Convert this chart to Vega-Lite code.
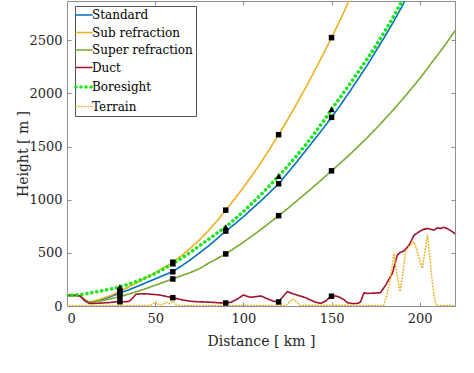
{
  "$schema": "https://vega.github.io/schema/vega-lite/v6.json",
  "width": 388,
  "height": 305,
  "autosize": "none",
  "padding": {"left": 67, "top": 1, "right": 19, "bottom": 67},
  "background": "white",
  "config": {
    "view": {"stroke": null},
    "font": "DejaVu Serif",
    "axis": {
      "grid": false,
      "domainColor": "#8f8f8f",
      "tickColor": "#8f8f8f",
      "labelColor": "#262626",
      "titleColor": "#262626",
      "labelFont": "DejaVu Serif",
      "titleFont": "DejaVu Serif",
      "labelFontSize": 13,
      "titleFontSize": 14,
      "titleFontWeight": "normal",
      "tickSize": -4,
      "format": "d"
    }
  },
  "datasets": {
    "lines": [
      {"s":"Standard","d":0,"h":100},{"s":"Standard","d":5,"h":100},{"s":"Standard","d":7.5,"h":95},{"s":"Standard","d":10,"h":58},{"s":"Standard","d":12.5,"h":36},{"s":"Standard","d":15,"h":40},{"s":"Standard","d":20,"h":60},{"s":"Standard","d":25,"h":90},{"s":"Standard","d":30,"h":122},{"s":"Standard","d":35,"h":152},{"s":"Standard","d":40,"h":185},{"s":"Standard","d":45,"h":220},{"s":"Standard","d":50,"h":255},{"s":"Standard","d":55,"h":290},{"s":"Standard","d":60,"h":325},{"s":"Standard","d":65,"h":378},{"s":"Standard","d":70,"h":435},{"s":"Standard","d":75,"h":498},{"s":"Standard","d":80,"h":562},{"s":"Standard","d":85,"h":632},{"s":"Standard","d":90,"h":705},{"s":"Standard","d":95,"h":770},{"s":"Standard","d":100,"h":840},{"s":"Standard","d":105,"h":915},{"s":"Standard","d":110,"h":990},{"s":"Standard","d":115,"h":1070},{"s":"Standard","d":120,"h":1150},{"s":"Standard","d":125,"h":1250},{"s":"Standard","d":130,"h":1350},{"s":"Standard","d":135,"h":1455},{"s":"Standard","d":140,"h":1560},{"s":"Standard","d":145,"h":1665},{"s":"Standard","d":150,"h":1775},{"s":"Standard","d":155,"h":1890},{"s":"Standard","d":160,"h":2010},{"s":"Standard","d":165,"h":2135},{"s":"Standard","d":170,"h":2260},{"s":"Standard","d":175,"h":2395},{"s":"Standard","d":180,"h":2530},{"s":"Standard","d":185,"h":2670},{"s":"Standard","d":190,"h":2820},{"s":"Standard","d":192,"h":2890},
      {"s":"Sub refraction","d":0,"h":100},{"s":"Sub refraction","d":5,"h":100},{"s":"Sub refraction","d":7.5,"h":95},{"s":"Sub refraction","d":10,"h":60},{"s":"Sub refraction","d":12.5,"h":38},{"s":"Sub refraction","d":15,"h":45},{"s":"Sub refraction","d":20,"h":70},{"s":"Sub refraction","d":25,"h":100},{"s":"Sub refraction","d":30,"h":140},{"s":"Sub refraction","d":35,"h":178},{"s":"Sub refraction","d":40,"h":222},{"s":"Sub refraction","d":45,"h":268},{"s":"Sub refraction","d":50,"h":315},{"s":"Sub refraction","d":55,"h":362},{"s":"Sub refraction","d":60,"h":412},{"s":"Sub refraction","d":65,"h":475},{"s":"Sub refraction","d":70,"h":545},{"s":"Sub refraction","d":75,"h":620},{"s":"Sub refraction","d":80,"h":705},{"s":"Sub refraction","d":85,"h":800},{"s":"Sub refraction","d":90,"h":902},{"s":"Sub refraction","d":95,"h":1005},{"s":"Sub refraction","d":100,"h":1115},{"s":"Sub refraction","d":105,"h":1230},{"s":"Sub refraction","d":110,"h":1350},{"s":"Sub refraction","d":115,"h":1480},{"s":"Sub refraction","d":120,"h":1612},{"s":"Sub refraction","d":125,"h":1750},{"s":"Sub refraction","d":130,"h":1895},{"s":"Sub refraction","d":135,"h":2045},{"s":"Sub refraction","d":140,"h":2200},{"s":"Sub refraction","d":145,"h":2360},{"s":"Sub refraction","d":150,"h":2525},{"s":"Sub refraction","d":155,"h":2695},{"s":"Sub refraction","d":160,"h":2875},{"s":"Sub refraction","d":162,"h":2950},
      {"s":"Super refraction","d":0,"h":100},{"s":"Super refraction","d":5,"h":100},{"s":"Super refraction","d":7.5,"h":95},{"s":"Super refraction","d":10,"h":58},{"s":"Super refraction","d":12.5,"h":36},{"s":"Super refraction","d":15,"h":38},{"s":"Super refraction","d":20,"h":50},{"s":"Super refraction","d":25,"h":68},{"s":"Super refraction","d":30,"h":88},{"s":"Super refraction","d":35,"h":112},{"s":"Super refraction","d":40,"h":138},{"s":"Super refraction","d":45,"h":165},{"s":"Super refraction","d":50,"h":195},{"s":"Super refraction","d":55,"h":225},{"s":"Super refraction","d":60,"h":255},{"s":"Super refraction","d":65,"h":285},{"s":"Super refraction","d":70,"h":315},{"s":"Super refraction","d":75,"h":350},{"s":"Super refraction","d":80,"h":400},{"s":"Super refraction","d":85,"h":445},{"s":"Super refraction","d":90,"h":490},{"s":"Super refraction","d":95,"h":545},{"s":"Super refraction","d":100,"h":600},{"s":"Super refraction","d":105,"h":660},{"s":"Super refraction","d":110,"h":720},{"s":"Super refraction","d":115,"h":785},{"s":"Super refraction","d":120,"h":850},{"s":"Super refraction","d":125,"h":915},{"s":"Super refraction","d":130,"h":985},{"s":"Super refraction","d":135,"h":1055},{"s":"Super refraction","d":140,"h":1125},{"s":"Super refraction","d":145,"h":1198},{"s":"Super refraction","d":150,"h":1272},{"s":"Super refraction","d":155,"h":1345},{"s":"Super refraction","d":160,"h":1420},{"s":"Super refraction","d":165,"h":1500},{"s":"Super refraction","d":170,"h":1580},{"s":"Super refraction","d":175,"h":1665},{"s":"Super refraction","d":180,"h":1755},{"s":"Super refraction","d":185,"h":1845},{"s":"Super refraction","d":190,"h":1940},{"s":"Super refraction","d":195,"h":2040},{"s":"Super refraction","d":200,"h":2140},{"s":"Super refraction","d":205,"h":2250},{"s":"Super refraction","d":210,"h":2360},{"s":"Super refraction","d":215,"h":2470},{"s":"Super refraction","d":220,"h":2590},
      {"s":"Duct","d":0,"h":100},{"s":"Duct","d":5,"h":100},{"s":"Duct","d":7.5,"h":95},{"s":"Duct","d":10,"h":50},{"s":"Duct","d":12.5,"h":25},{"s":"Duct","d":15,"h":24},{"s":"Duct","d":20,"h":28},{"s":"Duct","d":25,"h":34},{"s":"Duct","d":28,"h":40},{"s":"Duct","d":32,"h":40},{"s":"Duct","d":35,"h":42},{"s":"Duct","d":37,"h":70},{"s":"Duct","d":39,"h":110},{"s":"Duct","d":42,"h":115},{"s":"Duct","d":47,"h":112},{"s":"Duct","d":52,"h":105},{"s":"Duct","d":55,"h":95},{"s":"Duct","d":57,"h":87},{"s":"Duct","d":60,"h":78},{"s":"Duct","d":63,"h":66},{"s":"Duct","d":66,"h":56},{"s":"Duct","d":70,"h":45},{"s":"Duct","d":74,"h":40},{"s":"Duct","d":78,"h":38},{"s":"Duct","d":82,"h":35},{"s":"Duct","d":86,"h":30},{"s":"Duct","d":90,"h":28},{"s":"Duct","d":93,"h":35},{"s":"Duct","d":96,"h":60},{"s":"Duct","d":100,"h":103},{"s":"Duct","d":104,"h":82},{"s":"Duct","d":107,"h":88},{"s":"Duct","d":110,"h":94},{"s":"Duct","d":113,"h":72},{"s":"Duct","d":117,"h":45},{"s":"Duct","d":120,"h":38},{"s":"Duct","d":122,"h":80},{"s":"Duct","d":125,"h":135},{"s":"Duct","d":128,"h":115},{"s":"Duct","d":131,"h":100},{"s":"Duct","d":135,"h":80},{"s":"Duct","d":138,"h":56},{"s":"Duct","d":141,"h":35},{"s":"Duct","d":144,"h":25},{"s":"Duct","d":147,"h":50},{"s":"Duct","d":149.5,"h":92},{"s":"Duct","d":152,"h":95},{"s":"Duct","d":154,"h":87},{"s":"Duct","d":157,"h":60},{"s":"Duct","d":159,"h":31},{"s":"Duct","d":162,"h":22},{"s":"Duct","d":165,"h":25},{"s":"Duct","d":166.5,"h":40},{"s":"Duct","d":168.4,"h":125},{"s":"Duct","d":170,"h":118},{"s":"Duct","d":172,"h":120},{"s":"Duct","d":175,"h":122},{"s":"Duct","d":177.8,"h":125},{"s":"Duct","d":180.7,"h":197},{"s":"Duct","d":182.5,"h":250},{"s":"Duct","d":184.5,"h":307},{"s":"Duct","d":186,"h":400},{"s":"Duct","d":187.3,"h":480},{"s":"Duct","d":189,"h":505},{"s":"Duct","d":191,"h":517},{"s":"Duct","d":194,"h":573},{"s":"Duct","d":196.8,"h":667},{"s":"Duct","d":200.6,"h":708},{"s":"Duct","d":202,"h":720},{"s":"Duct","d":204.4,"h":730},{"s":"Duct","d":206,"h":722},{"s":"Duct","d":208,"h":714},{"s":"Duct","d":210,"h":735},{"s":"Duct","d":212,"h":730},{"s":"Duct","d":213.8,"h":740},{"s":"Duct","d":216,"h":725},{"s":"Duct","d":218.6,"h":698},{"s":"Duct","d":220,"h":680},
      {"s":"Boresight","d":0,"h":100},{"s":"Boresight","d":5,"h":105},{"s":"Boresight","d":10,"h":113},{"s":"Boresight","d":15,"h":128},{"s":"Boresight","d":20,"h":144},{"s":"Boresight","d":25,"h":160},{"s":"Boresight","d":30,"h":180},{"s":"Boresight","d":35,"h":205},{"s":"Boresight","d":40,"h":235},{"s":"Boresight","d":45,"h":268},{"s":"Boresight","d":50,"h":305},{"s":"Boresight","d":55,"h":350},{"s":"Boresight","d":60,"h":400},{"s":"Boresight","d":65,"h":450},{"s":"Boresight","d":70,"h":505},{"s":"Boresight","d":75,"h":565},{"s":"Boresight","d":80,"h":625},{"s":"Boresight","d":85,"h":685},{"s":"Boresight","d":90,"h":745},{"s":"Boresight","d":95,"h":815},{"s":"Boresight","d":100,"h":890},{"s":"Boresight","d":105,"h":968},{"s":"Boresight","d":110,"h":1050},{"s":"Boresight","d":115,"h":1135},{"s":"Boresight","d":120,"h":1222},{"s":"Boresight","d":125,"h":1315},{"s":"Boresight","d":130,"h":1410},{"s":"Boresight","d":135,"h":1510},{"s":"Boresight","d":140,"h":1615},{"s":"Boresight","d":145,"h":1730},{"s":"Boresight","d":150,"h":1850},{"s":"Boresight","d":155,"h":1965},{"s":"Boresight","d":160,"h":2080},{"s":"Boresight","d":165,"h":2200},{"s":"Boresight","d":170,"h":2320},{"s":"Boresight","d":175,"h":2445},{"s":"Boresight","d":180,"h":2580},{"s":"Boresight","d":185,"h":2720},{"s":"Boresight","d":190,"h":2870},{"s":"Boresight","d":192,"h":2930},
      {"s":"Terrain","d":0,"h":5},{"s":"Terrain","d":46,"h":5},{"s":"Terrain","d":48,"h":12},{"s":"Terrain","d":50,"h":38},{"s":"Terrain","d":52,"h":14},{"s":"Terrain","d":54,"h":10},{"s":"Terrain","d":56,"h":35},{"s":"Terrain","d":58,"h":22},{"s":"Terrain","d":60,"h":45},{"s":"Terrain","d":62,"h":12},{"s":"Terrain","d":64,"h":5},{"s":"Terrain","d":124,"h":5},{"s":"Terrain","d":126,"h":35},{"s":"Terrain","d":128,"h":65},{"s":"Terrain","d":130,"h":40},{"s":"Terrain","d":132,"h":6},{"s":"Terrain","d":179.5,"h":5},{"s":"Terrain","d":181.5,"h":110},{"s":"Terrain","d":183.5,"h":275},{"s":"Terrain","d":185.4,"h":495},{"s":"Terrain","d":187,"h":310},{"s":"Terrain","d":188.8,"h":135},{"s":"Terrain","d":190.5,"h":320},{"s":"Terrain","d":192,"h":510},{"s":"Terrain","d":194,"h":560},{"s":"Terrain","d":196.8,"h":604},{"s":"Terrain","d":198.5,"h":520},{"s":"Terrain","d":200,"h":430},{"s":"Terrain","d":201.5,"h":354},{"s":"Terrain","d":203,"h":520},{"s":"Terrain","d":204.4,"h":667},{"s":"Terrain","d":205.8,"h":450},{"s":"Terrain","d":207.2,"h":216},{"s":"Terrain","d":208.5,"h":60},{"s":"Terrain","d":209.5,"h":5},{"s":"Terrain","d":220,"h":5}
    ],
    "markers": [
      {"m":"sq","d":30,"h":140},{"m":"sq","d":60,"h":412},{"m":"sq","d":90,"h":902},{"m":"sq","d":120,"h":1612},{"m":"sq","d":150,"h":2525},
      {"m":"sq","d":30,"h":122},{"m":"sq","d":60,"h":322},{"m":"sq","d":90,"h":705},{"m":"sq","d":120,"h":1150},{"m":"sq","d":150,"h":1775},
      {"m":"sq","d":30,"h":88},{"m":"sq","d":60,"h":254},{"m":"sq","d":90,"h":490},{"m":"sq","d":120,"h":850},{"m":"sq","d":150,"h":1272},
      {"m":"sq","d":30,"h":40},{"m":"sq","d":60,"h":78},{"m":"sq","d":90,"h":28},{"m":"sq","d":120,"h":38},{"m":"sq","d":150,"h":92},
      {"m":"tri","d":30,"h":178},{"m":"tri","d":60,"h":400},{"m":"tri","d":90,"h":742},{"m":"tri","d":120,"h":1222},{"m":"tri","d":150,"h":1850}
    ]
  },
  "layer": [
    {
      "data": {"name": "lines"},
      "mark": {"type": "line", "clip": true, "strokeCap": "round", "strokeJoin": "round"},
      "encoding": {
        "x": {"field": "d", "type": "quantitative", "scale": {"domain": [0, 220], "nice": false, "zero": false},
              "axis": {"orient": "bottom", "values": [0, 50, 100, 150, 200], "title": "Distance [ km ]", "labelPadding": 10, "titlePadding": 9}},
        "y": {"field": "h", "type": "quantitative", "scale": {"domain": [0, 2870], "nice": false},
              "axis": {"orient": "left", "values": [0, 500, 1000, 1500, 2000, 2500], "title": "Height [ m ]", "labelPadding": 9, "titlePadding": -2}},
        "color": {"field": "s", "type": "nominal",
                  "scale": {"domain": ["Standard", "Sub refraction", "Super refraction", "Duct", "Boresight", "Terrain"],
                            "range": ["#0072BD", "#EDB120", "#77AC30", "#A2142F", "#19E619", "#EDB120"]},
                  "legend": {"title": null, "orient": "none", "legendX": 8, "legendY": 5, "strokeColor": "#555555", "fillColor": "white",
                             "padding": 3, "labelFont": "DejaVu Serif", "labelFontSize": 12, "labelColor": "black",
                             "symbolSize": 256, "symbolType": "stroke", "rowPadding": 5.5, "labelOffset": 2,
                             "encode": {"symbols": {"update": {
                               "strokeWidth": {"signal": "datum.value === 'Boresight' ? 3.6 : 1.6"},
                               "strokeCap": {"value": "round"}
                             }}}}},
        "strokeDash": {"field": "s", "type": "nominal",
                       "scale": {"domain": ["Standard", "Sub refraction", "Super refraction", "Duct", "Boresight", "Terrain"],
                                 "range": [[1, 0], [1, 0], [1, 0], [1, 0], [0.01, 5], [0.5, 2.5]]}},
        "strokeWidth": {"condition": {"test": "datum.s === 'Boresight'", "value": 3.6}, "value": 1.6}
      }
    },
    {
      "data": {"name": "markers"},
      "mark": {"type": "point", "filled": true, "color": "black", "opacity": 1},
      "encoding": {
        "x": {"field": "d", "type": "quantitative", "scale": {"domain": [0, 220], "nice": false, "zero": false},
              "axis": {"orient": "top", "values": [0, 50, 100, 150, 200], "labels": false, "title": null}},
        "y": {"field": "h", "type": "quantitative", "scale": {"domain": [0, 2870], "nice": false},
              "axis": {"orient": "right", "values": [0, 500, 1000, 1500, 2000, 2500], "labels": false, "title": null}},
        "shape": {"field": "m", "type": "nominal", "scale": {"domain": ["sq", "tri"], "range": ["square", "triangle-up"]}, "legend": null},
        "size": {"field": "m", "type": "nominal", "scale": {"domain": ["sq", "tri"], "range": [30, 45]}, "legend": null}
      }
    }
  ],
  "resolve": {"axis": {"x": "independent", "y": "independent"}}
}
